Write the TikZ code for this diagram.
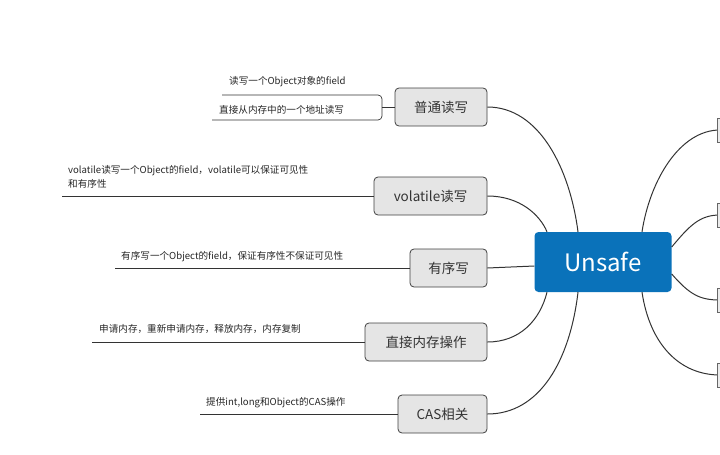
\documentclass[tikz,border=0pt]{standalone}
\usepackage{fontspec}
\setmainfont{Noto Sans CJK SC}
\begin{document}
\begin{tikzpicture}[x=1pt,y=-1pt,
  topic/.style={draw=black!75,fill=black!10,rounded corners=4pt,line width=0.8pt,minimum height=38pt,inner xsep=6pt,font=\fontsize{13.5}{15}\selectfont,text=black!80},
  leaf/.style={font=\fontsize{9.6}{14}\selectfont,text=black!85,anchor=west,inner sep=0pt},
  conn/.style={line width=1pt,black!80},
  thin/.style={line width=0.7pt,black!80}]
\useasboundingbox (0,0) rectangle (720,455);
\node[fill={rgb,255:red,10;green,114;blue,186},rounded corners=4pt,minimum width=137pt,minimum height=60pt,text=white,font=\fontsize{24}{26}\selectfont] (U) at (603,262) {Unsafe};
\node[topic,minimum width=92pt] (a) at (441,107) {普通读写};
\node[topic,minimum width=113pt] (b) at (430.5,196) {volatile读写};
\node[topic,minimum width=77pt] (c) at (448.5,268) {有序写};
\node[topic,minimum width=122pt] (d) at (426,342) {直接内存操作};
\node[topic,minimum width=89pt] (e) at (442.5,414) {CAS相关};
\draw[conn] (a.east) .. controls (540,107) and (570,170) .. ([xshift=-25pt]U.north);
\draw[conn] (b.east) .. controls (520,196) and (540,215) .. ([xshift=-56pt]U.north);
\draw[conn] (c.east) -- ([yshift=-4pt]U.west);
\draw[conn] (d.east) .. controls (520,342) and (540,320) .. ([xshift=-56pt]U.south);
\draw[conn] (e.east) .. controls (540,414) and (570,360) .. ([xshift=-25pt]U.south);
\coordinate (r1) at (720,130); \coordinate (r2) at (720,215);
\coordinate (r3) at (720,300); \coordinate (r4) at (720,375);
\draw[conn] ([xshift=39pt]U.north) .. controls (650,180) and (680,130) .. (r1);
\draw[conn] ([yshift=15pt]U.east) .. controls (690,225) and (700,215) .. (r2);
\draw[conn] ([yshift=-12pt]U.east) .. controls (690,295) and (700,300) .. (r3);
\draw[conn] ([xshift=39pt]U.south) .. controls (650,345) and (680,375) .. (r4);
\draw[black!60,fill=black!8] (717,118) rectangle (722,142);
\draw[black!60,fill=black!8] (717,203) rectangle (722,227);
\draw[black!60,fill=black!8] (717,288) rectangle (722,312);
\draw[black!60,fill=black!8] (717,363) rectangle (722,387);
% leaves
\coordinate (ab) at (382,107);
\draw[thin] (a.west) -- (ab);
\coordinate (a1) at (222,95); \coordinate (a2) at (212,120);
\draw[thin,rounded corners=4pt] (a1) -- (382,95) -- (382,120) -- (a2);
\node[leaf] (t1) at (229,82) {读写一个Object对象的field};
\node[leaf] (t2) at (219,110) {直接从内存中的一个地址读写};
\coordinate (b1) at (62,196);
\draw[thin] (b.west) -- (b1);
\node[leaf,align=left] (t3) at (68,177) {volatile读写一个Object的field，volatile可以保证可见性\\和有序性};
\coordinate (c1) at (115,268);
\draw[thin] (c.west) -- (c1);
\node[leaf] (t4) at (121,257) {有序写一个Object的field，保证有序性不保证可见性};
\coordinate (d1) at (92,342);
\draw[thin] (d.west) -- (d1);
\node[leaf] (t5) at (99,329) {申请内存，重新申请内存，释放内存，内存复制};
\coordinate (e1) at (200,414);
\draw[thin] (e.west) -- (e1);
\node[leaf] (t6) at (206,403) {提供int,long和Object的CAS操作};
\end{tikzpicture}
\end{document}
